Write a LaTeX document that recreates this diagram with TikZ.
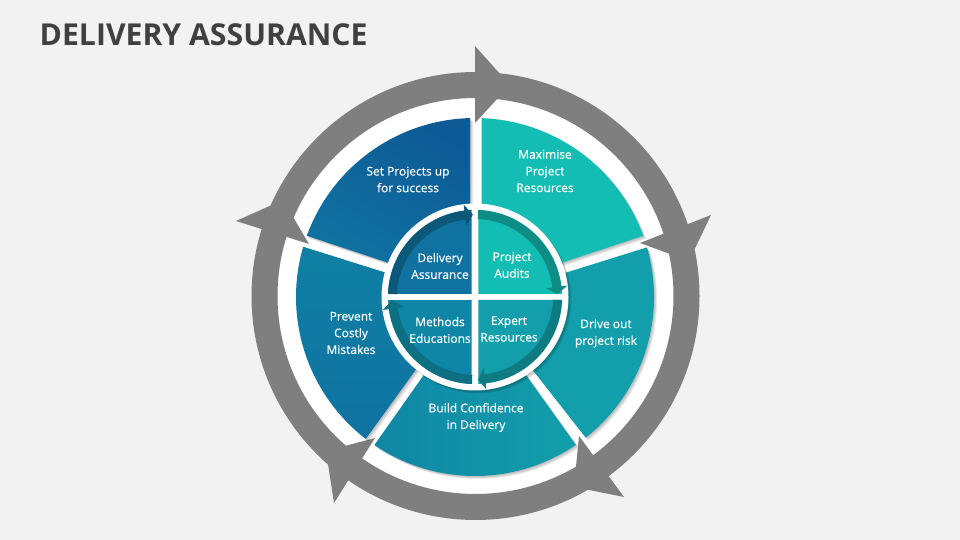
\documentclass[tikz,border=0pt]{standalone}
\usepackage{fontspec}
\setmainfont{Open Sans}
\newfontfamily\lblfont[FakeBold=0.4]{Open Sans}
\usepackage{tikz}
\definecolor{pagebg}{HTML}{F2F2F2}
\definecolor{titlegray}{HTML}{404040}
\definecolor{ringgray}{HTML}{7F7F7F}
\definecolor{tealflat}{HTML}{14BDB4}
\definecolor{tealmid}{HTML}{129FAB}
\definecolor{seablue}{HTML}{0F86A5}
\definecolor{deepblue}{HTML}{0E5A96}
\definecolor{midblue}{HTML}{0F72A1}
\tikzset{
    softshadow/.style={
        preaction={fill=black,opacity=.09,transform canvas={shift={(3pt,-3pt)}}},
        preaction={fill=black,opacity=.09,transform canvas={shift={(2pt,-2pt)}}},
        preaction={fill=black,opacity=.09,transform canvas={shift={(1pt,-1pt)}}}},
    lbl/.style={text=white,align=center,font=\lblfont\fontsize{12}{16.7}\selectfont,inner sep=0pt},
    ringhead/.style={fill=ringgray}
}
\begin{document}
\begin{tikzpicture}[x=1pt,y=1pt]
    \fill[pagebg] (0,0) rectangle (960,540);
    \node[anchor=west,text=titlegray,inner sep=0pt,font=\bfseries\fontsize{30.2}{36}\selectfont] (title) at (39.5,505) {DELIVERY ASSURANCE};
    \begin{scope}[shift={(475,243)}]
        % ring and its five heads
        \fill[white] (0.5,1) circle (198pt);
        \fill[ringgray,even odd rule] (0.5,1) circle (224pt) (0.5,1) circle (198pt);
        \fill[ringhead] (0,251) -- (0,174) -- (35,212) -- cycle;
        \fill[ringhead] (236,82) -- (165,54) -- (214,36) -- cycle;
        \fill[ringhead] (104,-139) -- (149,-200) -- (99,-190) -- cycle;
        \fill[ringhead] (-100,-141) -- (-141,-206) -- (-149,-154) -- cycle;
        \fill[ringhead] (-239,76) -- (-166,53) -- (-192,97) -- cycle;
        % outer segments
        \shade[softshadow,left color=deepblue,right color=midblue,shading angle=-30] (91.6:179pt) arc[start angle=91.6,end angle=160,radius=179pt] -- (-80,32) -- (-5,85) -- cycle;
        \fill[softshadow,tealflat] (87.9:179pt) arc[start angle=87.9,end angle=20,radius=179pt] -- (80,32) -- (6.7,85) -- cycle;
        \fill[softshadow,tealmid] (16.1:179pt) arc[start angle=16.1,end angle=-51.8,radius=179pt] -- (53,-67) -- (85,22.5) -- cycle;
        \shade[softshadow,left color=seablue,right color=tealmid] (-55.7:179pt) arc[start angle=-55.7,end angle=-124.2,radius=179pt] -- (-47,-72) -- (48,-74) -- cycle;
        \shade[softshadow,top color=seablue!70!midblue,bottom color=midblue] (163.7:179pt) arc[start angle=163.7,end angle=232.4,radius=179pt] -- (-55,-67) -- (-85,23) -- cycle;
        % inner disc
        \fill[softshadow,white] (0,0) circle (93.5pt);
        \fill[tealflat] (3.3,3) -- (3.3,87) arc[start angle=87.8,end angle=2,radius=87pt] -- cycle;
        \fill[tealmid] (3.3,-3) -- (87,-3) arc[start angle=-2,end angle=-87.8,radius=87pt] -- cycle;
        \fill[seablue] (-3.3,-3) -- (-3.3,-87) arc[start angle=267.8,end angle=182,radius=87pt] -- cycle;
        \fill[midblue] (-3.3,3) -- (-87,3) arc[start angle=178,end angle=92.2,radius=87pt] -- cycle;
        % inner arrows
        \foreach \from/\base/\tip/\col in {178/97/91.5/0B5878, 88/7/2/0F8C84, -2/-83/-88/0E7A82, 268/188/182/0C6F82}{
            \definecolor{bandcol}{HTML}{\col}
            \fill[bandcol] (\from:87pt) arc[start angle=\from,end angle=\base,radius=87pt] -- (\base:93pt) -- (\tip:82.5pt) -- (\base:72pt) -- (\base:78pt) arc[start angle=\base,end angle=\from,radius=78pt] -- cycle;
        }
        % texts
        \node[lbl] (setup) at (-67,117.5) {Set Projects up\\for success};
        \node[lbl] (maxres) at (70,126) {Maximise\\Project\\Resources};
        \node[lbl] (risk) at (131,-36.5) {Drive out\\project risk};
        \node[lbl] (confid) at (1,-120.5) {Build Confidence\\in Delivery};
        \node[lbl] (mistakes) at (-124,-36) {Prevent\\Costly\\Mistakes};
        \node[lbl] (assure) at (-35,31) {Delivery\\Assurance};
        \node[lbl] (audits) at (37,32) {Project\\Audits};
        \node[lbl] (methods) at (-35,-33) {Methods\\Educations};
        \node[lbl] (expert) at (34,-32) {Expert\\Resources};
    \end{scope}
\end{tikzpicture}
\end{document}
